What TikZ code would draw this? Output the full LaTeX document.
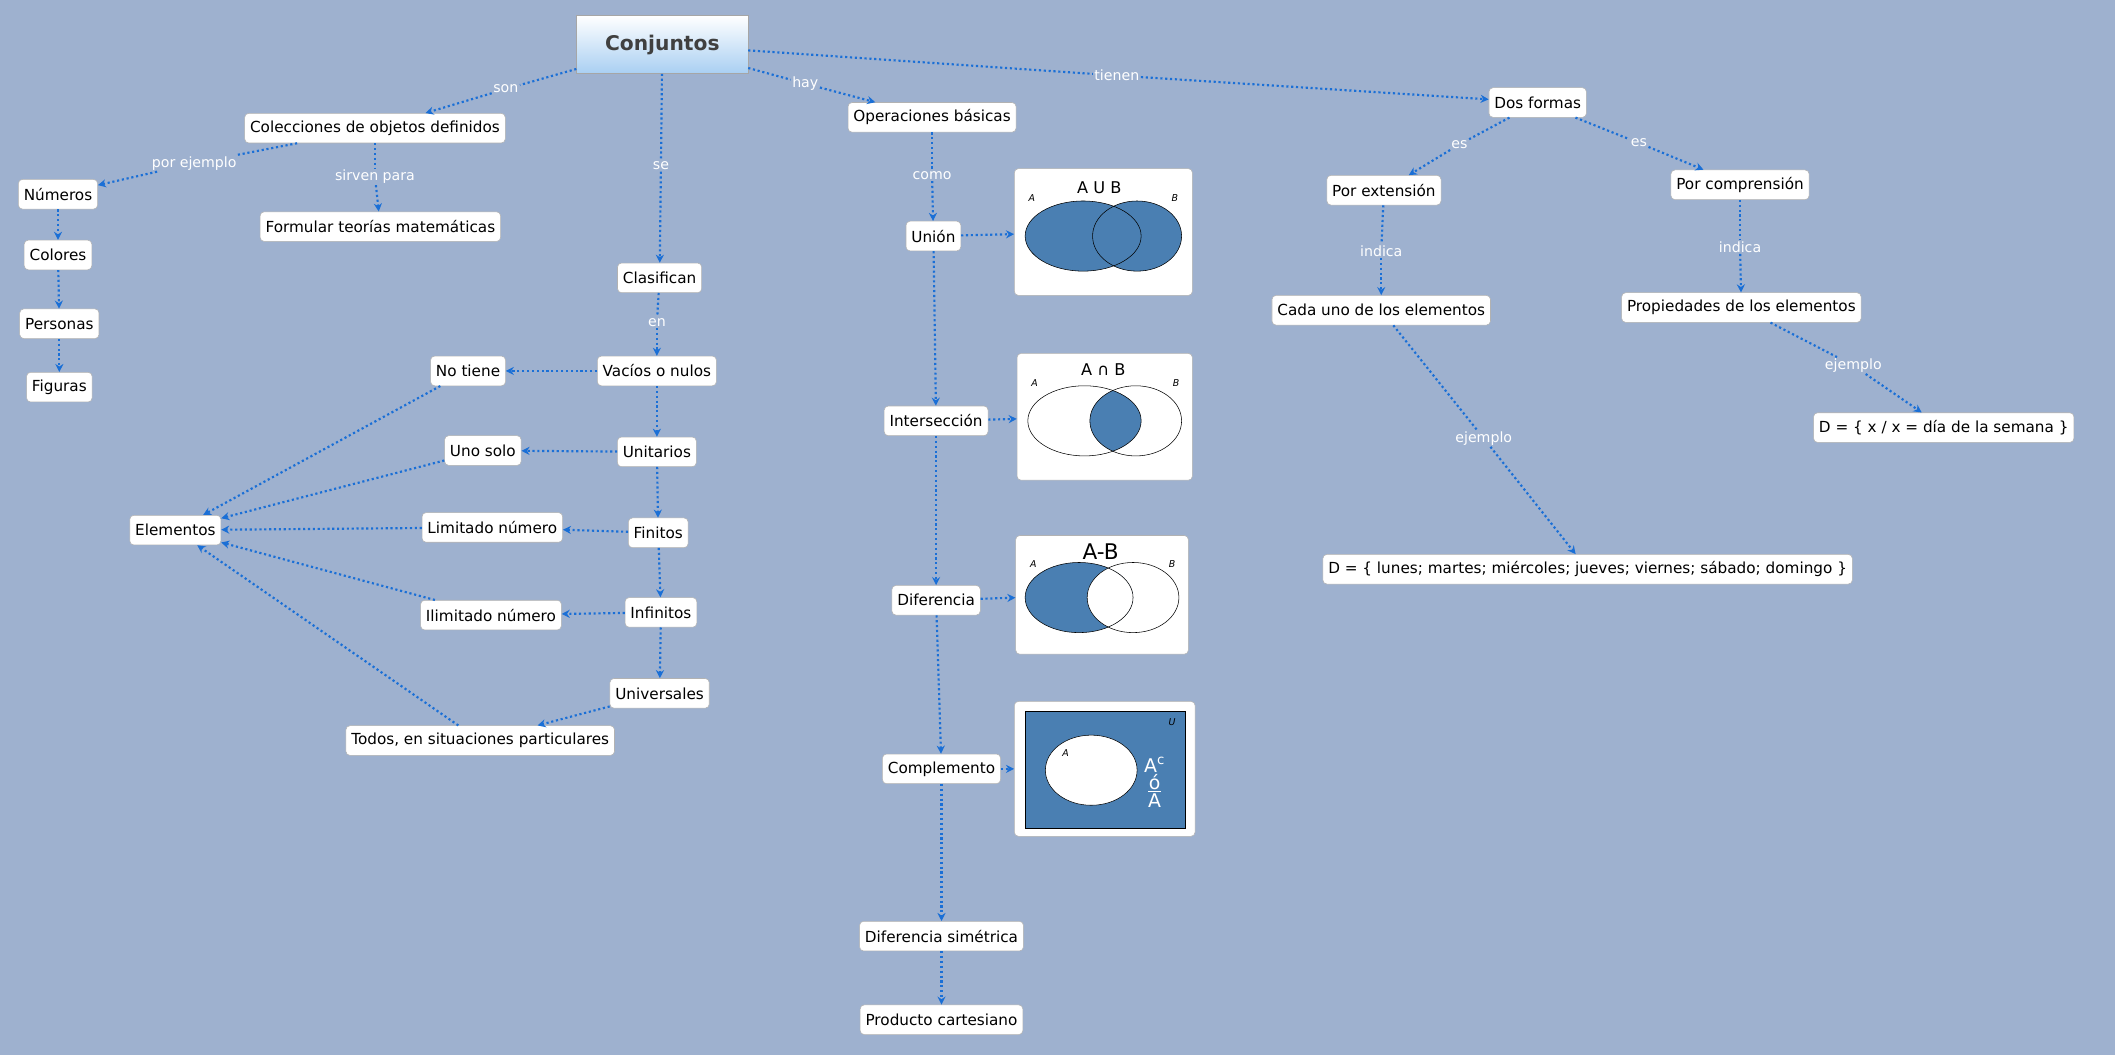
\documentclass[tikz,border=0pt]{standalone}
\usepackage{fontspec}
\setmainfont{DejaVu Sans}
\usetikzlibrary{arrows.meta}
\definecolor{bg}{HTML}{9EB1CF}
\definecolor{ln}{HTML}{1A6FD6}
\definecolor{vf}{HTML}{4A7FB2}
\definecolor{tb}{HTML}{A9CFF2}
\begin{document}
\begin{tikzpicture}[x=1pt,y=-1pt,
  nd/.style={draw=gray!60,fill=white,rounded corners=3pt,inner xsep=4pt,minimum height=22pt,font=\fontsize{11.3}{13}\selectfont},
  lb/.style={text=white,inner sep=1pt,font=\fontsize{10.5}{12}\selectfont},
  ar/.style={ln,line width=1.6pt,dotted,-{Stealth[length=6pt,width=6pt]}},
  pl/.style={ln,line width=1.6pt,dotted},
  img/.style={draw=gray!60,fill=white,rounded corners=3pt}]
\fill[bg] (0,0) rectangle (1568,782);
\useasboundingbox (0,0) rectangle (1568,782);
% title
\node[draw=gray!70,top color=white,bottom color=tb,minimum width=127pt,minimum height=43pt,font=\bfseries\fontsize{15}{17}\selectfont,text=black!75] (c) at (491,33) {Conjuntos};
% left
\node[nd] (col) at (278,95) {Colecciones de objetos definidos};
\node[nd] (num) at (43,144) {Números};
\node[nd] (clr) at (43,189) {Colores};
\node[nd] (per) at (44,240) {Personas};
\node[nd] (fig) at (44,287) {Figuras};
\node[nd] (for) at (282,168) {Formular teorías matemáticas};
\node[lb] (lson) at (375,66) {son};
\node[lb] (lpe) at (144,121) {por ejemplo};
\node[lb] (lsp) at (278,131) {sirven para};
\draw[pl] (c) -- (lson); \draw[ar] (lson) -- (col);
\draw[pl] (col) -- (lpe); \draw[ar] (lpe) -- (num);
\draw[pl] (col) -- (lsp); \draw[ar] (lsp) -- (for);
\draw[ar] (num) -- (clr); \draw[ar] (clr) -- (per); \draw[ar] (per) -- (fig);
% middle
\node[nd] (cla) at (489,206) {Clasifican};
\node[nd] (vac) at (487,275) {Vacíos o nulos};
\node[nd] (not) at (347,275) {No tiene};
\node[nd] (uni) at (487,335) {Unitarios};
\node[nd] (uno) at (358,334) {Uno solo};
\node[nd] (fin) at (488,395) {Finitos};
\node[nd] (lim) at (365,391) {Limitado número};
\node[nd] (inf) at (490,454) {Infinitos};
\node[nd] (ili) at (364,456) {Ilimitado número};
\node[nd] (unv) at (489,514) {Universales};
\node[nd] (tod) at (356,549) {Todos, en situaciones particulares};
\node[nd] (ele) at (130,393) {Elementos};
\node[lb] (lse) at (490,123) {se};
\node[lb] (len) at (487,239) {en};
\draw[pl] (c) -- (lse); \draw[ar] (lse) -- (cla);
\draw[pl] (cla) -- (len); \draw[ar] (len) -- (vac);
\draw[ar] (vac) -- (uni); \draw[ar] (uni) -- (fin); \draw[ar] (fin) -- (inf); \draw[ar] (inf) -- (unv);
\draw[ar] (vac) -- (not); \draw[ar] (uni) -- (uno); \draw[ar] (fin) -- (lim); \draw[ar] (inf) -- (ili); \draw[ar] (unv) -- (tod);
\foreach \n in {not,uno,lim,ili,tod} \draw[ar] (\n) -- (ele);
% operations
\node[nd] (ope) at (691,87) {Operaciones básicas};
\node[nd] (un) at (692,175) {Unión};
\node[nd] (int) at (694,312) {Intersección};
\node[nd] (dif) at (694,445) {Diferencia};
\node[nd] (com) at (698,570) {Complemento};
\node[nd] (dsi) at (698,694) {Diferencia simétrica};
\node[nd] (pro) at (698,756) {Producto cartesiano};
\node[lb] (lhay) at (597,62) {hay};
\node[lb] (lcomo) at (691,130) {como};
\draw[pl] (c) -- (lhay); \draw[ar] (lhay) -- (ope);
\draw[pl] (ope) -- (lcomo); \draw[ar] (lcomo) -- (un);
\draw[ar] (un) -- (int); \draw[ar] (int) -- (dif); \draw[ar] (dif) -- (com); \draw[ar] (com) -- (dsi); \draw[ar] (dsi) -- (pro);
% images
\node[img,minimum width=132pt,minimum height=94pt] (i1) at (818,172) {};
\node[img,minimum width=130pt,minimum height=94pt] (i2) at (819,309) {};
\node[img,minimum width=128pt,minimum height=88pt] (i3) at (817,441) {};
\node[img,minimum width=134pt,minimum height=100pt] (i4) at (819,570) {};
\draw[ar] (un) -- (i1); \draw[ar] (int) -- (i2); \draw[ar] (dif) -- (i3); \draw[ar] (com) -- (i4);
% union
\fill[vf] (803,175) ellipse (43 and 26); \fill[vf] (843,175) ellipse (33 and 26);
\draw (803,175) ellipse (43 and 26); \draw (843,175) ellipse (33 and 26);
\node[font=\fontsize{12}{14}\selectfont] at (815,139) {A U B};
\node[font=\itshape\scriptsize] at (765,147) {A}; \node[font=\itshape\scriptsize] at (871,147) {B};
% intersection
\begin{scope}\clip (804,312) ellipse (42 and 26); \fill[vf] (842,312) ellipse (34 and 26);\end{scope}
\draw (804,312) ellipse (42 and 26); \draw (842,312) ellipse (34 and 26);
\node[font=\fontsize{12}{14}\selectfont] at (818,274) {A ∩ B};
\node[font=\itshape\scriptsize] at (767,284) {A}; \node[font=\itshape\scriptsize] at (872,284) {B};
% difference
\fill[vf] (800,443) ellipse (40 and 26);
\begin{scope}\clip (800,443) ellipse (40 and 26); \fill[white] (840,443) ellipse (34 and 26);\end{scope}
\draw (800,443) ellipse (40 and 26); \draw (840,443) ellipse (34 and 26);
\node[font=\fontsize{16}{18}\selectfont] at (816,409) {A-B};
\node[font=\itshape\scriptsize] at (766,418) {A}; \node[font=\itshape\scriptsize] at (869,418) {B};
% complement
\filldraw[fill=vf,draw=black] (760,527) rectangle (879,614);
\filldraw[fill=white,draw=black] (809,571) ellipse (34 and 26);
\node[font=\itshape\scriptsize] at (790,558) {A};
\node[font=\itshape\scriptsize] at (869,535) {U};
\node[text=white,align=center,font=\fontsize{14}{15}\selectfont,inner sep=0pt] at (856,580) {A\textsuperscript{c}\\[-2pt]ó\\[-2pt]$\overline{\mbox{A}}$};
% right
\node[nd] (dos) at (1140,76) {Dos formas};
\node[nd] (ext) at (1026,141) {Por extensión};
\node[nd] (cmp) at (1290,137) {Por comprensión};
\node[nd] (cad) at (1024,230) {Cada uno de los elementos};
\node[nd] (prp) at (1291,228) {Propiedades de los elementos};
\node[nd] (dx) at (1441,317) {D = \{ x / x = día de la semana \}};
\node[nd] (dl) at (1177,422) {D = \{ lunes; martes; miércoles; jueves; viernes; sábado; domingo \}};
\node[lb] (lten) at (828,56) {tienen};
\node[lb] (les1) at (1082,107) {es};
\node[lb] (les2) at (1215,106) {es};
\node[lb] (lin1) at (1024,186) {indica};
\node[lb] (lin2) at (1290,183) {indica};
\node[lb] (lej1) at (1100,325) {ejemplo};
\node[lb] (lej2) at (1374,271) {ejemplo};
\draw[pl] (c) -- (lten); \draw[ar] (lten) -- (dos);
\draw[pl] (dos) -- (les1); \draw[ar] (les1) -- (ext);
\draw[pl] (dos) -- (les2); \draw[ar] (les2) -- (cmp);
\draw[pl] (ext) -- (lin1); \draw[ar] (lin1) -- (cad);
\draw[pl] (cmp) -- (lin2); \draw[ar] (lin2) -- (prp);
\draw[pl] (cad) -- (lej1); \draw[ar] (lej1) -- (dl);
\draw[pl] (prp) -- (lej2); \draw[ar] (lej2) -- (dx);
\end{tikzpicture}
\end{document}
